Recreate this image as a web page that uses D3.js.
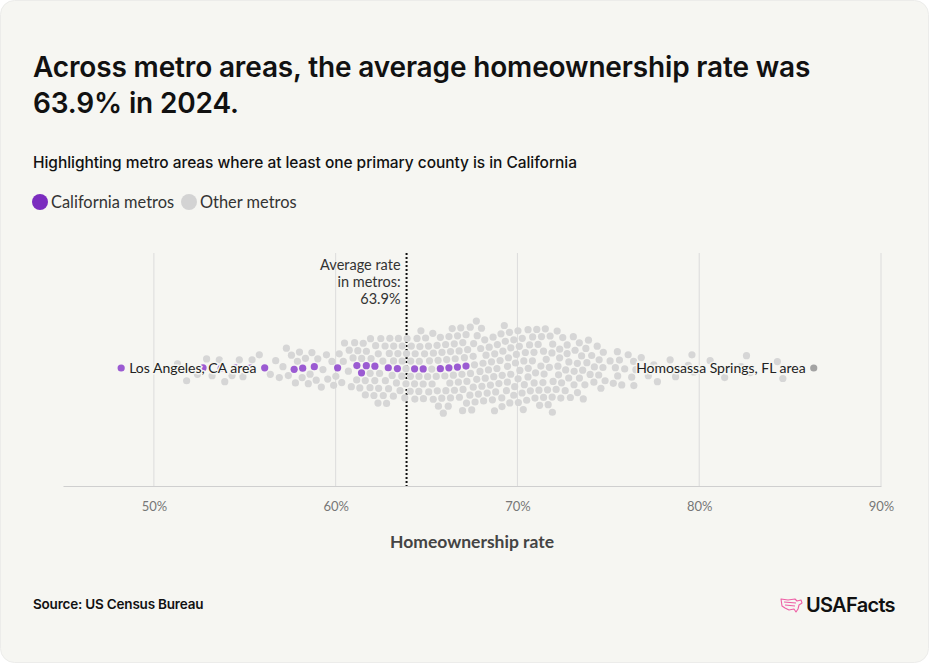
<!DOCTYPE html>
<html lang="en">
<head>
<meta charset="utf-8">
<title>Homeownership rate by metro</title>
<script src="https://cdn.jsdelivr.net/npm/d3@7"></script>
<style>
body{margin:0;background:#fff;}
#main{width:929px;height:663px;}
</style>
</head>
<body>
<div id="main"></div>
<script>

// ---- data ----
var avgRate = 63.9
var xTicks = [50, 60, 70, 80, 90]

var caMetros = [48.2, 52.7, 53.7, 54.5, 55.3, 56.1, 57.8, 58.1, 58.8, 60.1, 61.3, 61.5,
  61.8, 62.0, 62.9, 63.6, 64.4, 64.9, 65.8, 66.0, 66.4, 67.0]

var otherLow = [51.3, 51.8, 52.4, 52.9, 53.2, 53.6, 53.9, 54.3, 54.7, 54.9, 55.4, 55.8,
  56.4, 56.7, 56.9, 57.1, 57.3, 57.4, 57.6, 57.8, 57.9,
  58.0, 58.2, 58.3, 58.5, 58.6, 58.7, 58.9, 59.0, 59.2, 59.3, 59.5, 59.6, 59.8, 59.9]

var other60s = [60.0, 60.2, 60.3, 60.4, 60.5, 60.7, 60.8, 60.9,
  61.0, 61.1, 61.2, 61.2, 61.3, 61.4, 61.5, 61.6, 61.6, 61.7, 61.8, 61.9, 61.9,
  62.0, 62.1, 62.1, 62.2, 62.3, 62.3, 62.4, 62.4, 62.5, 62.6, 62.6, 62.7, 62.8, 62.8, 62.9,
  63.0, 63.1, 63.1, 63.2, 63.2, 63.3, 63.4, 63.4, 63.5, 63.5, 63.6, 63.6, 63.7, 63.8, 63.8, 63.9, 63.9,
  64.0, 64.1, 64.1, 64.2, 64.2, 64.3, 64.4, 64.4, 64.5, 64.5, 64.6, 64.6, 64.7, 64.7, 64.8, 64.8, 64.9,
  65.0, 65.1, 65.1, 65.2, 65.2, 65.3, 65.3, 65.4, 65.4, 65.5, 65.5, 65.6, 65.6, 65.7, 65.7, 65.8, 65.8, 65.9, 65.9,
  66.0, 66.1, 66.1, 66.2, 66.2, 66.3, 66.3, 66.3, 66.4, 66.4, 66.5, 66.5, 66.5, 66.6, 66.6, 66.7, 66.7, 66.8, 66.8, 66.9, 66.9,
  67.0, 67.0, 67.1, 67.1, 67.2, 67.2, 67.3, 67.3, 67.4, 67.4, 67.5, 67.5, 67.5, 67.6, 67.6, 67.7, 67.7, 67.8, 67.8, 67.9, 67.9,
  68.0, 68.0, 68.1, 68.1, 68.2, 68.2, 68.3, 68.3, 68.4, 68.4, 68.4, 68.5, 68.5, 68.6, 68.6, 68.7, 68.7, 68.8, 68.8, 68.9, 68.9,
  69.0, 69.0, 69.1, 69.1, 69.2, 69.2, 69.3, 69.3, 69.3, 69.4, 69.4, 69.5, 69.5, 69.6, 69.6, 69.6, 69.7, 69.7, 69.8, 69.8, 69.9, 69.9]

var other70s = [70.0, 70.0, 70.1, 70.1, 70.2, 70.2, 70.3, 70.3, 70.3, 70.4, 70.4, 70.5, 70.5, 70.6, 70.6, 70.7, 70.7, 70.8, 70.8, 70.9, 70.9,
  71.0, 71.0, 71.1, 71.1, 71.2, 71.2, 71.3, 71.3, 71.4, 71.4, 71.4, 71.5, 71.5, 71.6, 71.6, 71.7, 71.7, 71.8, 71.8, 71.9, 71.9,
  72.0, 72.0, 72.1, 72.2, 72.2, 72.3, 72.3, 72.4, 72.4, 72.5, 72.5, 72.6, 72.6, 72.7, 72.7, 72.8, 72.8, 72.9,
  73.0, 73.1, 73.1, 73.2, 73.3, 73.3, 73.4, 73.4, 73.5, 73.6, 73.6, 73.7, 73.7, 73.8, 73.9,
  74.0, 74.1, 74.2, 74.3, 74.4, 74.5, 74.5, 74.6, 74.6, 74.7, 74.8,
  75.1, 75.3, 75.4, 75.5, 75.5, 75.6, 75.7, 75.9,
  76.1, 76.3, 76.4, 76.4, 76.5, 76.8,
  77.2, 77.5, 77.7, 77.9]

var otherHigh = [78.4, 78.7, 79.4, 79.6, 79.7, 80.6, 81.4, 82.3, 82.6, 82.8, 84.3, 84.6]

var laArea = {name: "Los Angeles, CA area", value: 48.2}
var homosassa = {name: "Homosassa Springs, FL area", value: 86.3}

// ---- layout ----
var W = 929, H = 663
var bg = "#f6f6f2"
var purple = "#8b3fcc"
var grey = "#d6d6d6"
var cy = 368
var r = 3.6

var svg = d3.select("#main").append("svg").attr("width", W).attr("height", H)

svg.append("rect").attr("x", 0.5).attr("y", 0.5).attr("width", W - 1).attr("height", H - 1)
  .attr("rx", 14).attr("fill", bg).attr("stroke", "#ececea")

// titles
var title = svg.append("text").attr("x", 33).attr("y", 77)
  .style("font-family", "Inter, sans-serif").style("font-weight", 600)
  .style("font-size", "28px").style("letter-spacing", "-0.15px").attr("fill", "#111")
title.append("tspan").attr("x", 33).text("Across metro areas, the average homeownership rate was")
title.append("tspan").attr("x", 33).attr("dy", 36).text("63.9% in 2024.")

svg.append("text").attr("x", 33).attr("y", 168)
  .style("font-family", "Inter, sans-serif").style("font-weight", 500)
  .style("font-size", "15.5px").style("letter-spacing", "-0.05px").attr("fill", "#111")
  .text("Highlighting metro areas where at least one primary county is in California")

// legend
var legend = [{label: "California metros", color: "#7b2cbf", x: 40}, {label: "Other metros", color: "#d3d3d3", x: 189}]
var lg = svg.selectAll("g.legend").data(legend).enter().append("g").attr("class", "legend")
  .attr("transform", function(d){return "translate(" + d.x + ",202)"})
lg.append("circle").attr("r", 8).attr("fill", function(d){return d.color})
lg.append("text").attr("x", 11).attr("dy", "0.35em")
  .style("font-family", "Lato, sans-serif").style("font-size", "16.4px").attr("fill", "#333")
  .text(function(d){return d.label})

// scale + axis
var x = d3.scaleLinear().domain([45, 90]).range([63, 881])
var yTop = 253, yBottom = 486

svg.selectAll("line.grid").data(xTicks).enter().append("line").attr("class", "grid")
  .attr("x1", function(d){return x(d)}).attr("x2", function(d){return x(d)})
  .attr("y1", yTop).attr("y2", yBottom).attr("stroke", "#dcdcdc")

var axis = svg.append("g").attr("transform", "translate(0," + yBottom + ")")
  .call(d3.axisBottom(x).tickValues(xTicks).tickSize(0).tickPadding(16).tickFormat(function(d){return d + "%"}))
axis.select(".domain").attr("stroke", "#cfcfcf")
axis.selectAll("text").style("font-family", "'Liberation Sans Narrow', 'Lato', sans-serif")
  .style("font-size", "13px").attr("fill", "#777")

svg.append("text").attr("x", (x.range()[0] + x.range()[1]) / 2).attr("y", 548)
  .attr("text-anchor", "middle")
  .style("font-family", "'Liberation Sans Narrow', 'Lato', sans-serif").style("font-weight", 700)
  .style("font-size", "17.5px").attr("fill", "#444").text("Homeownership rate")

// average line
svg.append("line").attr("x1", x(avgRate)).attr("x2", x(avgRate)).attr("y1", yTop).attr("y2", yBottom)
  .attr("stroke", "#111").attr("stroke-width", 2).attr("stroke-dasharray", "2,2")

var ann = svg.append("text").attr("text-anchor", "end")
  .style("font-family", "Lato, sans-serif").style("font-size", "14.5px").attr("fill", "#333")
;["Average rate", "in metros:", avgRate + "%"].forEach(function(t, i){
  ann.append("tspan").attr("x", x(avgRate) - 6).attr("y", 270 + i * 17).text(t)
})

// beeswarm
var nodes = []
caMetros.forEach(function(v){nodes.push({v: v, g: "ca"})})
otherLow.concat(other60s, other70s, otherHigh).forEach(function(v){nodes.push({v: v, g: "other"})})
nodes.push({v: homosassa.value, g: "hl"})
nodes.forEach(function(d, i){
  d.x = x(d.v)
  d.y = d.g === "other" ? cy + ((i * 37) % 61 - 30) : cy
})

var sim = d3.forceSimulation(nodes)
  .force("x", d3.forceX(function(d){return x(d.v)}).strength(0.9))
  .force("y", d3.forceY(cy).strength(function(d){return d.g === "other" ? 0.012 : 0.5}))
  .force("collide", d3.forceCollide(4.3).iterations(2))
  .stop()
for (var i = 0; i < 300; i++) sim.tick()

var order = {other: 0, hl: 1, ca: 2}
nodes.sort(function(a, b){return order[a.g] - order[b.g]})

svg.append("g").selectAll("circle").data(nodes).enter().append("circle")
  .attr("cx", function(d){return d.x}).attr("cy", function(d){return d.y}).attr("r", r)
  .attr("fill", function(d){return d.g === "ca" ? purple : d.g === "hl" ? "#a3a3a3" : grey})
  .attr("fill-opacity", function(d){return d.g === "ca" ? 0.85 : 1})

// labels
var labels = [{t: laArea.name, x: x(laArea.value) + 8, anchor: "start"},
  {t: homosassa.name, x: x(homosassa.value) - 8, anchor: "end"}]
svg.selectAll("text.lbl").data(labels).enter().append("text").attr("class", "lbl")
  .attr("x", function(d){return d.x}).attr("y", cy).attr("dy", "0.35em")
  .attr("text-anchor", function(d){return d.anchor})
  .style("font-family", "Lato, sans-serif").style("font-size", "14px").attr("fill", "#222")
  .attr("stroke", bg).attr("stroke-width", 3).attr("paint-order", "stroke")
  .text(function(d){return d.t})

// footer
svg.append("text").attr("x", 33).attr("y", 609)
  .style("font-family", "Inter, sans-serif").style("font-weight", 600)
  .style("font-size", "13.5px").style("letter-spacing", "-0.2px").attr("fill", "#111")
  .text("Source: US Census Bureau")

var logo = svg.append("g").attr("transform", "translate(780,597)")
logo.append("path")
  .attr("d", "M1,2 L8,3 L15,2 L17,4 L21,3 L22,6 L19,8 L18,12 L16,15 L14,12 L9,13 L5,11 L2,9 Z M4,5 L16,6 M5,8 L15,9")
  .attr("fill", "none").attr("stroke", "#ee5ea5").attr("stroke-width", 1.1).attr("stroke-linejoin", "round")
svg.append("text").attr("x", 806).attr("y", 612)
  .style("font-family", "Inter, sans-serif").style("font-weight", 600)
  .style("font-size", "20px").style("letter-spacing", "-0.7px").attr("fill", "#111")
  .text("USAFacts")

</script>
</body>
</html>
